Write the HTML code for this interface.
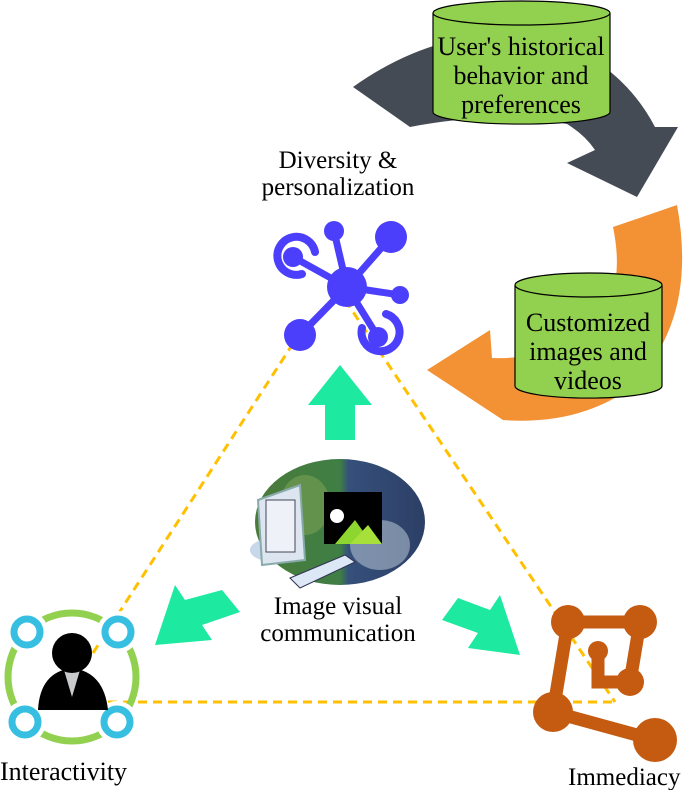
<!DOCTYPE html>
<html><head><style>
html,body{margin:0;padding:0;background:#fff;}
svg{display:block;}
text{font-family:"Liberation Serif",serif;fill:#000;}
</style></head><body>
<svg width="685" height="790" viewBox="0 0 685 790" xmlns="http://www.w3.org/2000/svg">
<defs>
<linearGradient id="gl" x1="0" y1="0" x2="1" y2="0">
<stop offset="0" stop-color="#4a7a3a"/><stop offset="0.5" stop-color="#3f7f45"/><stop offset="0.55" stop-color="#35507a"/><stop offset="1" stop-color="#2c3f66"/>
</linearGradient>
</defs>
<!-- dark arrow -->
<path d="M353,87 Q440,25 540,35 Q620,60 655,127 L678,127 L637,197 L567,163 L595,150 Q585,135 567,124 Q500,110 410,127 Z" fill="#454b55"/>
<!-- orange arrow -->
<path d="M613,227 L677,205 Q700,330 620,395 Q570,425 503,420 L427,370 L490,330 L492,358 Q560,360 600,320 Q625,285 613,227 Z" fill="#f39235"/>
<!-- cylinders -->
<g stroke="#000" stroke-width="1.2" fill="#92d050">
<path d="M433,13 L433,112 A88,12 0 0 0 610,112 L610,13"/>
<ellipse cx="521.5" cy="13" rx="88.5" ry="12"/>
<path d="M515,285 L515,386 A73,12 0 0 0 662,386 L662,285"/>
<ellipse cx="588.5" cy="285" rx="73.5" ry="12"/>
</g>
<g font-size="26" text-anchor="middle">
<text x="521" y="55">User's historical</text>
<text x="521" y="84">behavior and</text>
<text x="521" y="113">preferences</text>
<text x="588" y="331">Customized</text>
<text x="588" y="360">images and</text>
<text x="588" y="389">videos</text>
<text x="338" y="168" font-size="25">Diversity &amp;</text>
<text x="338" y="195" font-size="25">personalization</text>
<text x="338" y="614" font-size="25">Image visual</text>
<text x="338" y="641" font-size="25">communication</text>
<text x="0" y="780" font-size="26" text-anchor="start">Interactivity</text>
<text x="568" y="785" font-size="25" text-anchor="start">Immediacy</text>
</g>
<!-- dashed triangle -->
<g stroke="#ffc000" stroke-width="3" stroke-dasharray="9,6" fill="none">
<line x1="93" y1="653" x2="305" y2="325"/>
<line x1="345" y1="300" x2="615" y2="702"/>
<line x1="108" y1="702" x2="617" y2="702"/>
</g>
<!-- green arrows -->
<g fill="#1de9a0">
<polygon points="340,365 372,405 355,405 355,440 325,440 325,405 308,405"/>
<polygon points="155,645 175,585 185,600 222,590 240,612 202,625 212,640"/>
<polygon points="520,655 500,595 490,610 458,598 442,620 478,633 468,648"/>
</g>
<!-- blue icon -->
<g fill="#4b3ffb" stroke="#4b3ffb">
<g stroke-width="7" stroke-linecap="round">
<line x1="347" y1="287" x2="334" y2="231"/>
<line x1="347" y1="287" x2="391" y2="237"/>
<line x1="347" y1="287" x2="400" y2="295"/>
<line x1="347" y1="287" x2="300" y2="335"/>
<line x1="347" y1="287" x2="378" y2="337"/>
<line x1="347" y1="287" x2="293" y2="257"/>
</g>
<circle cx="347" cy="287" r="20" stroke="none"/>
<circle cx="334" cy="231" r="10" stroke="none"/>
<circle cx="391" cy="237" r="16" stroke="none"/>
<circle cx="400" cy="295" r="9" stroke="none"/>
<circle cx="300" cy="335" r="16" stroke="none"/>
<circle cx="378" cy="337" r="10" stroke="none"/>
<circle cx="293" cy="257" r="10" stroke="none"/>
<path d="M302,274 A19,19 0 1 1 315,252" fill="none" stroke-width="8" stroke-linecap="round"/>
<path d="M386,314 A19,19 0 1 1 362,328" fill="none" stroke-width="8" stroke-linecap="round"/>
</g>
<!-- orange icon -->
<g fill="#c55a11" stroke="#c55a11">
<g stroke-width="13" stroke-linecap="round" fill="none">
<polyline points="655,740 553,712 568,622 640,622 630,682 598,682 598,650"/>
</g>
<circle cx="568" cy="622" r="17" stroke="none"/>
<circle cx="640" cy="622" r="17" stroke="none"/>
<circle cx="598" cy="651" r="10" stroke="none"/>
<circle cx="630" cy="682" r="14" stroke="none"/>
<circle cx="553" cy="712" r="20" stroke="none"/>
<circle cx="655" cy="740" r="22" stroke="none"/>
</g>
<!-- person icon -->
<circle cx="72" cy="677" r="64" fill="none" stroke="#92d050" stroke-width="7"/>
<g fill="#fff">
<circle cx="27" cy="632" r="21"/><circle cx="118" cy="632" r="21"/>
<circle cx="25" cy="722" r="21"/><circle cx="117" cy="722" r="21"/>
</g>
<g fill="#fff" stroke="#36bfe0" stroke-width="7">
<circle cx="27" cy="632" r="13"/><circle cx="118" cy="632" r="13"/>
<circle cx="25" cy="722" r="13"/><circle cx="117" cy="722" r="13"/>
</g>
<path d="M38,710 Q40,672 72,668 Q104,672 108,710 Z" fill="#000"/>
<polygon points="64,670 80,670 72,697" fill="#c8cacc"/>
<circle cx="72" cy="653" r="20" fill="#000"/>
<!-- center image -->
<ellipse cx="340" cy="522" rx="85" ry="63" fill="url(#gl)"/>
<ellipse cx="305" cy="505" rx="25" ry="30" fill="#7aa055" opacity="0.6"/>
<ellipse cx="380" cy="545" rx="30" ry="25" fill="#c8d4e0" opacity="0.5"/>
<ellipse cx="275" cy="550" rx="25" ry="12" fill="#c8d8ea"/>
<polygon points="258,500 300,485 305,560 262,565" fill="#dde6f0" stroke="#8aa" stroke-width="2"/>
<rect x="266" y="500" width="29" height="52" fill="#eef2f8" stroke="#445" stroke-width="1"/>
<polygon points="290,578 345,555 355,562 300,588" fill="#dce8f5" stroke="#335" stroke-width="1"/>
<rect x="324" y="492" width="58" height="52" fill="#000"/>
<circle cx="337" cy="516" r="7" fill="#fff"/>
<polygon points="335,544 355,520 372,544" fill="#8dd630"/>
<polygon points="350,544 368,525 382,544" fill="#a7e03a"/>
</svg>
</body></html>
